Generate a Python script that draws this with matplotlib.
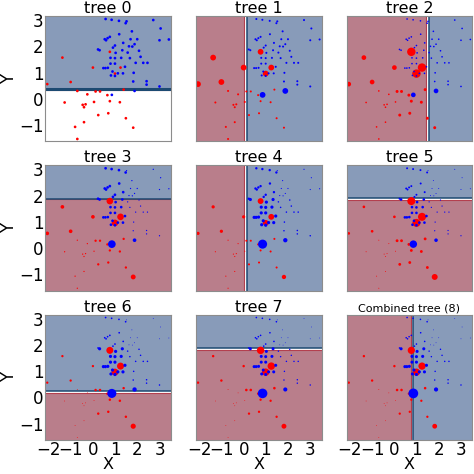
import numpy as np
import matplotlib.pyplot as plt

# points (all equal weights there)
blue_x = [0.57, 0.84, 1.17, 1.51, 1.47, 2.71, 3.04, 1.75, 1.18, 0.76, 0.66, 0.53, 0.59,
          1.99, 1.69, 2.99, 3.41, 1.36, 0.99, 1.87, 1.62, 0.90, 1.77, 0.23, 0.30, 1.32,
          2.07, 1.02, 1.56, 2.14, 0.79, 0.99, 1.27, 1.66, 1.92, 2.26, 2.45, 0.99, 0.79,
          0.67, 0.47, 0.56, 1.44, 0.88, 1.12, 1.35, 1.83, 0.81, 0.99, 1.81, 2.41, 2.41,
          2.99, 0.85, 1.87]
blue_y = [3.04, 3.01, 2.97, 2.95, 2.88, 3.00, 2.68, 2.57, 2.46, 2.36, 2.31, 2.27, 2.23,
          2.27, 2.27, 2.23, 2.26, 2.13, 2.03, 2.08, 2.00, 1.95, 1.99, 1.88, 1.85, 1.85,
          1.83, 1.75, 1.76, 1.60, 1.56, 1.55, 1.56, 1.55, 1.37, 1.37, 1.37, 1.34, 1.34,
          1.18, 1.17, 1.17, 1.22, 1.04, 0.97, 0.97, 0.99, 0.89, 0.87, 0.66, 0.67, 0.54,
          0.47, 0.15, 0.30]
red_x = [-1.37, 0.76, 0.00, 1.24, 0.99, -2.05, -1.00, -0.70, 0.12, 0.32, 0.65, -0.25,
         -1.27, 0.05, 0.76, 1.21, -0.46, -0.33, -0.40, 0.24, 0.69, 1.48, -0.40, -0.80,
         1.81, -0.70, 1.38]
red_y = [1.57, 1.79, 1.19, 1.19, 0.96, 0.56, 0.64, 0.30, 0.28, 0.28, 0.14, 0.17,
         -0.14, -0.12, -0.09, -0.13, -0.23, -0.21, -0.32, -0.62, -0.55, -0.74, -0.89,
         -1.07, -1.10, -1.53, 0.35]

# decision stumps: which feature and where it splits
split_axis = ['y', 'x', 'x', 'y', 'x', 'y', 'y', 'y', 'x']
split_at = [0.37, 0.09, 1.49, 1.87, 0.09, 1.87, 0.20, 1.85, 0.79]
titles = ['tree 0', 'tree 1', 'tree 2', 'tree 3', 'tree 4', 'tree 5',
          'tree 6', 'tree 7', 'Combined tree (8)']

X = np.column_stack([red_x + blue_x, red_y + blue_y])
label = np.array([0] * len(red_x) + [1] * len(blue_x))
N = len(label)

blue_bg = '#889bb9'
red_bg = '#b97e8b'
navy = '#1d4a72'
dark_red = '#b3404f'
xmin, xmax = -2.15, 3.5
ymin, ymax = -1.62, 3.15

fig, axes = plt.subplots(3, 3, figsize=(4.74, 4.74), dpi=100)
plt.subplots_adjust(left=0.095, right=0.9965, top=0.966, bottom=0.072,
                    wspace=0.198, hspace=0.192)

w = np.ones(N) / N
for i, ax in enumerate(axes.flat):
    t = split_at[i]
    low_col = 'white' if i == 0 else red_bg
    if split_axis[i] == 'x':
        d = 0.055
        ax.axvspan(xmin, t - d, color=low_col, lw=0, zorder=0)
        ax.axvspan(t + d, xmax, color=blue_bg, lw=0, zorder=0)
        ax.axvline(t - d, color=dark_red, lw=0.8, zorder=1)
        ax.axvline(t + d, color=navy, lw=1.1, zorder=1)
        coord = X[:, 0]
    else:
        d = 0.045 if i != 3 else 0.0
        ax.axhspan(ymin, t - d, color=low_col, lw=0, zorder=0)
        ax.axhspan(t + d, ymax, color=blue_bg, lw=0, zorder=0)
        if i == 0:
            ax.axhline(t - d, color=dark_red, lw=0.8, zorder=1)
            ax.axhline(t + 0.02, color=navy, lw=2.2, zorder=1)
        else:
            ax.axhline(t - d, color=dark_red, lw=0.8, zorder=1)
            ax.axhline(t + d, color=navy, lw=1.1, zorder=1)
        coord = X[:, 1]

    s = 3.8 * w * N
    red = label == 0
    ax.scatter(X[red, 0], X[red, 1], s=s[red], c='red', linewidths=0, zorder=2)
    ax.scatter(X[~red, 0], X[~red, 1], s=s[~red], c='blue', linewidths=0, zorder=2)

    # boosting weight update with this stump
    if i < 8:
        pred = (coord > t).astype(int)
        miss = pred != label
        err = w[miss].sum() / w.sum()
        w[miss] *= (1 - err) / err
        w = w / w.sum()

    ax.set_xlim(xmin, xmax)
    ax.set_ylim(ymin, ymax)
    ax.set_xticks([-2, -1, 0, 1, 2, 3])
    ax.set_yticks([-1, 0, 1, 2, 3])
    ax.tick_params(length=0, labelsize=12, pad=1)
    for sp in ax.spines.values():
        sp.set_color('#8c8c8c')
    if i == 8:
        ax.set_title(titles[i], fontsize=8, pad=2)
    else:
        ax.set_title(titles[i], fontsize=11.5, pad=0)
    if i % 3 == 0:
        ax.set_ylabel('Y', fontsize=12, labelpad=1)
    else:
        ax.set_yticklabels([])
    if i >= 6:
        ax.set_xlabel('X', fontsize=11.5, labelpad=-1.5)
    else:
        ax.set_xticklabels([])

plt.savefig('out.png')
